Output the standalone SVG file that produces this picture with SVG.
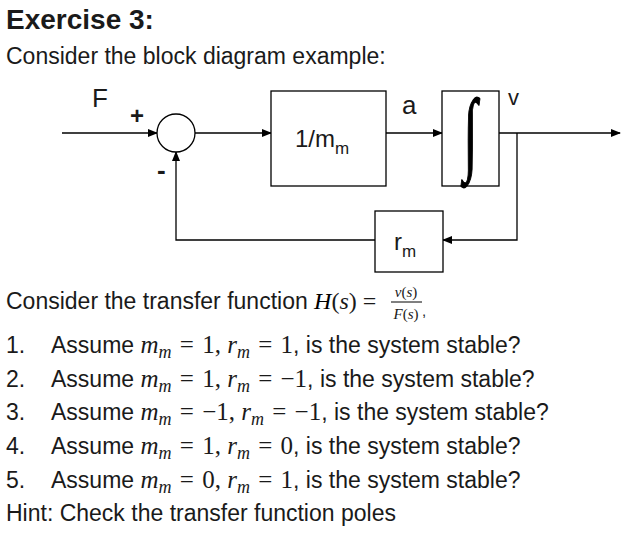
<svg xmlns="http://www.w3.org/2000/svg" width="629" height="537" viewBox="0 0 629 537">
<style>
.t{font-family:"Liberation Sans",Arial,sans-serif;fill:#1a1a1a}
.m{font-family:"Liberation Serif","DejaVu Serif",serif;font-style:italic}
.r{font-family:"Liberation Serif","DejaVu Serif",serif}
.b{fill:#fff;stroke:#000;stroke-width:1.3}
.l{fill:none;stroke:#000;stroke-width:1.3}
</style>
<defs><marker id="a" markerWidth="10" markerHeight="8" refX="9" refY="4" orient="auto" markerUnits="userSpaceOnUse"><path d="M0,0L10,4L0,8z"/></marker></defs>
<rect width="629" height="537" fill="#fff"/>
<text class="t" x="6" y="29" font-size="28" font-weight="bold">Exercise 3:</text>
<text class="t" x="6" y="64" font-size="23">Consider the block diagram example:</text>
<g id="connectors">
<path class="l" d="M62,133H157" marker-end="url(#a)"/>
<path class="l" d="M195,133H271" marker-end="url(#a)"/>
<path class="l" d="M386,133H442" marker-end="url(#a)"/>
<path class="l" d="M499,133H620" marker-end="url(#a)"/>
<path class="l" d="M517,133V240H443" marker-end="url(#a)"/>
<path class="l" d="M375,240H176V152" marker-end="url(#a)"/>
</g>
<g id="sum"><circle class="b" cx="176" cy="133" r="19"/></g>
<g id="mass"><rect class="b" x="271" y="91" width="115" height="95"/>
<text class="t" x="295" y="147" font-size="24">1/m<tspan font-size="17" dy="7">m</tspan></text></g>
<g id="integ"><rect class="b" x="442" y="91" width="57" height="95"/>
<text class="r" transform="translate(470.5 163) scale(0.55 1)" x="0" y="0" font-size="92" text-anchor="middle" stroke="#000" stroke-width="1.5">∫</text></g>
<g id="rm"><rect class="b" x="375" y="211" width="68" height="61"/>
<text class="t" x="394" y="250" font-size="24">r<tspan font-size="17" dy="7">m</tspan></text></g>
<g id="labels" class="t">
<text x="92" y="107" font-size="26">F</text>
<text x="130" y="124" font-size="24" font-weight="bold">+</text>
<text x="157" y="179" font-size="26" font-weight="bold">-</text>
<text x="402" y="114" font-size="26">a</text>
<text x="508" y="105" font-size="22">v</text>
</g>
<g class="t" font-size="23">
<text x="6" y="309">Consider the transfer function <tspan class="m" fill="#000" font-size="24">H</tspan><tspan class="r" font-size="24">(</tspan><tspan class="m" font-size="24">s</tspan><tspan class="r" font-size="24">)  =</tspan></text>
<text class="m" x="406" y="297" font-size="15" text-anchor="middle">v<tspan font-style="normal">(</tspan>s<tspan font-style="normal">)</tspan></text>
<path d="M391,302H422" stroke="#000" stroke-width="1"/>
<text class="m" x="406" y="319" font-size="15" text-anchor="middle">F<tspan font-style="normal">(</tspan>s<tspan font-style="normal">)</tspan></text>
<text x="422" y="316" font-size="15">,</text>
<text x="6" y="353">1.</text><text x="51" y="353">Assume <tspan class="m" font-size="25">m<tspan font-size="18" dy="5">m</tspan></tspan><tspan class="r" font-size="25" dy="-5"> <tspan dx="2">=</tspan> <tspan dx="2">1,</tspan> </tspan><tspan class="m" font-size="25">r<tspan font-size="18" dy="5">m</tspan></tspan><tspan class="r" font-size="25" dy="-5"> <tspan dx="2">=</tspan> <tspan dx="2">1</tspan></tspan>, is the system stable?</text>
<text x="6" y="387">2.</text><text x="51" y="387">Assume <tspan class="m" font-size="25">m<tspan font-size="18" dy="5">m</tspan></tspan><tspan class="r" font-size="25" dy="-5"> <tspan dx="2">=</tspan> <tspan dx="2">1,</tspan> </tspan><tspan class="m" font-size="25">r<tspan font-size="18" dy="5">m</tspan></tspan><tspan class="r" font-size="25" dy="-5"> <tspan dx="2">=</tspan> <tspan dx="2">−1</tspan></tspan>, is the system stable?</text>
<text x="6" y="420">3.</text><text x="51" y="420">Assume <tspan class="m" font-size="25">m<tspan font-size="18" dy="5">m</tspan></tspan><tspan class="r" font-size="25" dy="-5"> <tspan dx="2">=</tspan> <tspan dx="2">−1,</tspan> </tspan><tspan class="m" font-size="25">r<tspan font-size="18" dy="5">m</tspan></tspan><tspan class="r" font-size="25" dy="-5"> <tspan dx="2">=</tspan> <tspan dx="2">−1</tspan></tspan>, is the system stable?</text>
<text x="6" y="454">4.</text><text x="51" y="454">Assume <tspan class="m" font-size="25">m<tspan font-size="18" dy="5">m</tspan></tspan><tspan class="r" font-size="25" dy="-5"> <tspan dx="2">=</tspan> <tspan dx="2">1,</tspan> </tspan><tspan class="m" font-size="25">r<tspan font-size="18" dy="5">m</tspan></tspan><tspan class="r" font-size="25" dy="-5"> <tspan dx="2">=</tspan> <tspan dx="2">0</tspan></tspan>, is the system stable?</text>
<text x="6" y="488">5.</text><text x="51" y="488">Assume <tspan class="m" font-size="25">m<tspan font-size="18" dy="5">m</tspan></tspan><tspan class="r" font-size="25" dy="-5"> <tspan dx="2">=</tspan> <tspan dx="2">0,</tspan> </tspan><tspan class="m" font-size="25">r<tspan font-size="18" dy="5">m</tspan></tspan><tspan class="r" font-size="25" dy="-5"> <tspan dx="2">=</tspan> <tspan dx="2">1</tspan></tspan>, is the system stable?</text>
<text x="6" y="521">Hint: Check the transfer function poles</text>
</g>
</svg>
